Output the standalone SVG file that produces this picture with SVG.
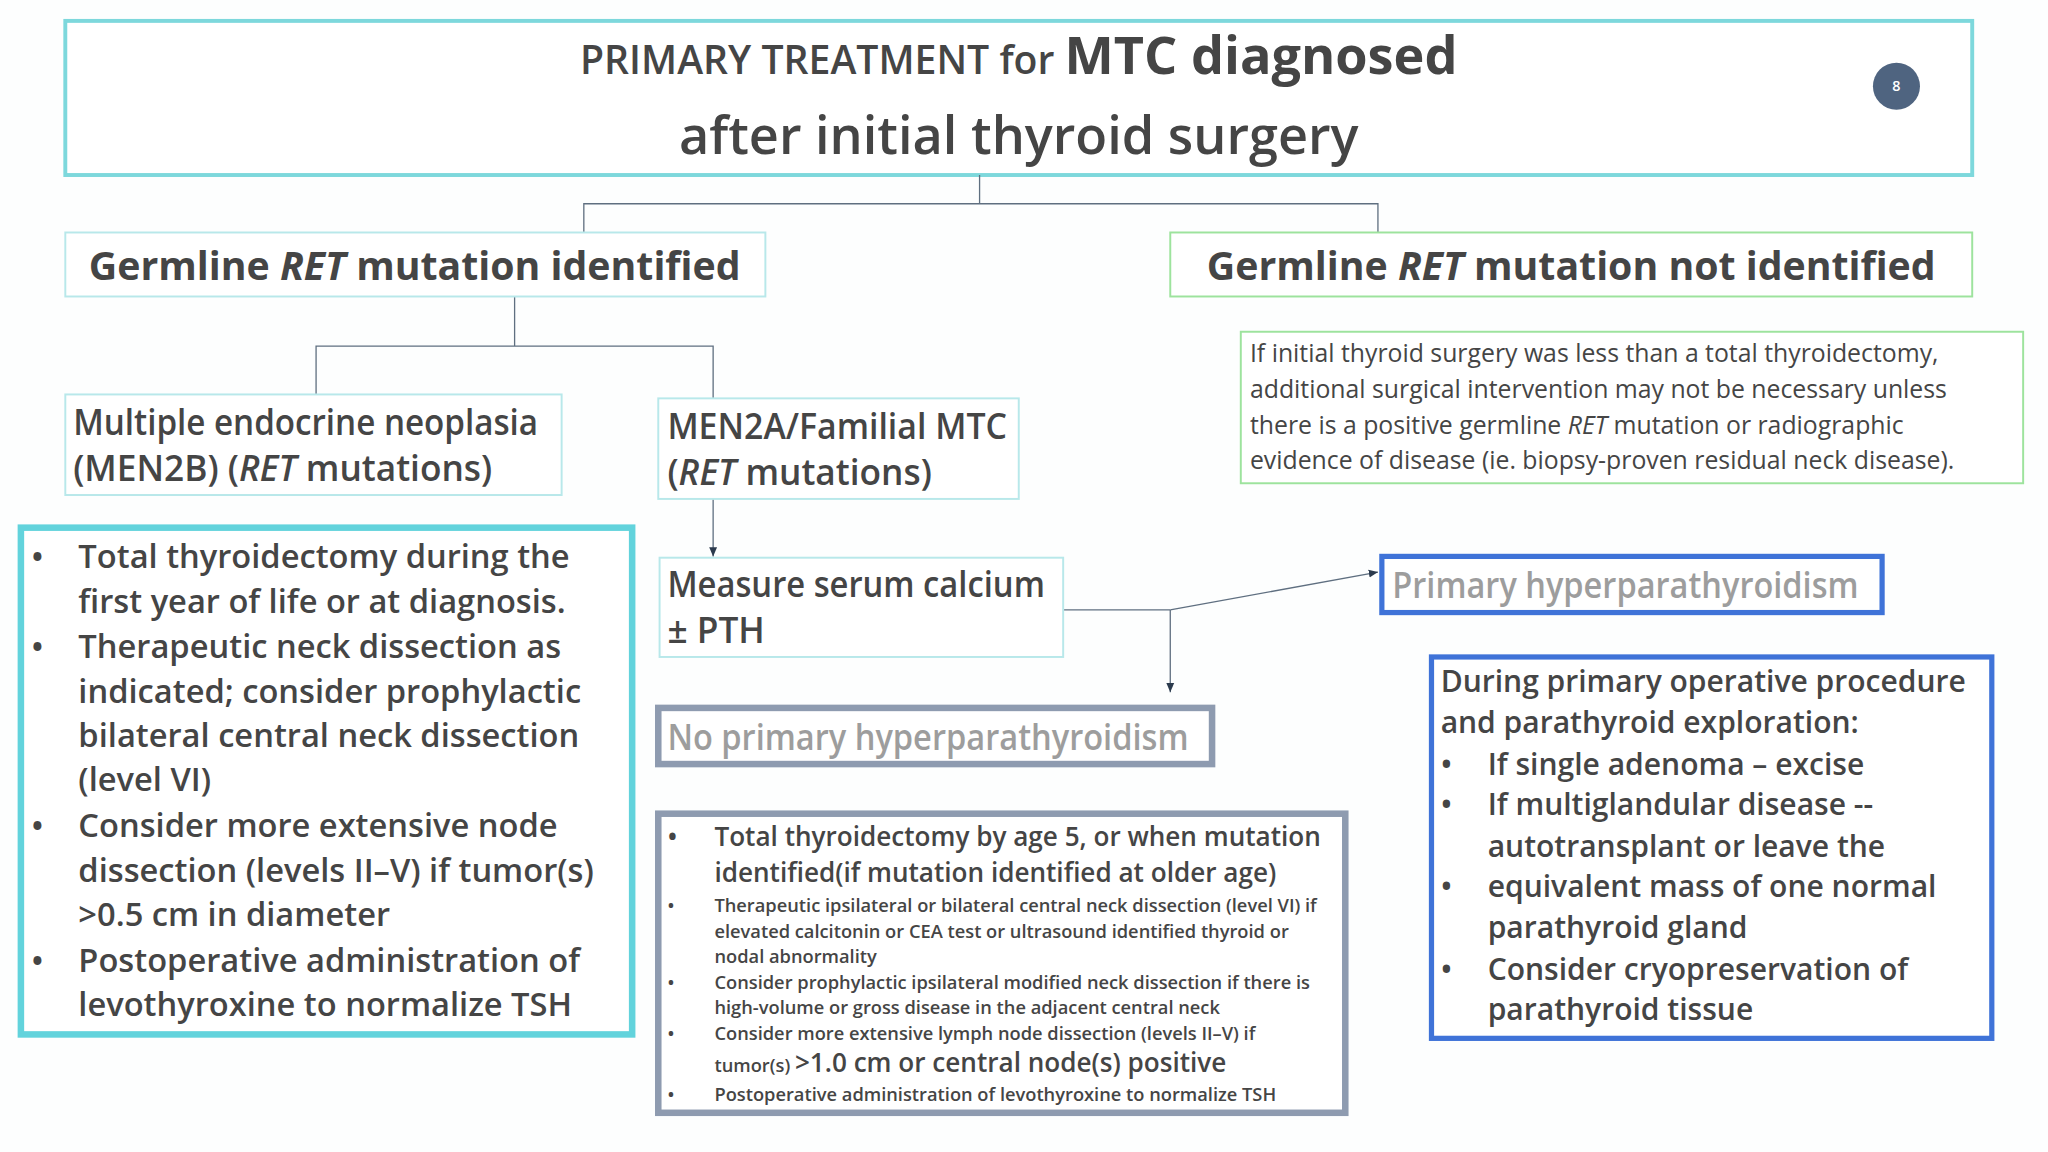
<svg xmlns="http://www.w3.org/2000/svg" width="2048" height="1152" viewBox="0 0 2048 1152">
<style>
text{font-family:"Open Sans","Noto Sans",sans-serif;fill:#454545;font-weight:600}
.t30{font-size:30px;font-weight:700}.t27{font-size:27px}.t26{font-size:25px}.t24{font-size:23px}.t20{font-size:20px}.t19{font-size:19px;font-weight:400}.t14{font-size:14px}
.g{fill:#9d9d9d}
.con{stroke:#5f6f80;stroke-width:1;fill:none}
</style>
<defs><marker id="ar" markerWidth="8" markerHeight="8" refX="7" refY="4" orient="auto" markerUnits="userSpaceOnUse"><path d="M0,1 L7,4 L0,7z" fill="#2b3a4d"/></marker></defs>
<rect width="2048" height="1152" fill="#fdfefe"/>
<g transform="scale(1.3061)">
<g id="title">
<rect x="50" y="16" width="1460" height="118" fill="#fff" stroke="#7dd8dc" stroke-width="3"/>
<text x="780" y="57" text-anchor="middle"><tspan font-size="30">PRIMARY TREATMENT for </tspan><tspan font-size="40" font-weight="700">MTC diagnosed</tspan></text>
<text x="780" y="118" text-anchor="middle" font-size="40" font-weight="700">after initial thyroid surgery</text>
<ellipse cx="1452" cy="66" rx="18" ry="18" fill="#4f6480"/>
<text x="1452" y="70" text-anchor="middle" font-size="11" font-weight="400" style="fill:#fff">8</text>
</g>
<g id="connectors">
<path class="con" d="M750,134 V156 M447,178 V156 H1055 V178"/>
<path class="con" d="M394,227 V265 M242,302 V265 H546 V305"/>
<path class="con" d="M546,382 V426" marker-end="url(#ar)"/>
<path class="con" d="M814,467 H896"/>
<path class="con" d="M896,467 L1055,438" marker-end="url(#ar)"/>
<path class="con" d="M896,467 V530" marker-end="url(#ar)"/>
</g>
<g id="ret-yes">
<rect x="50" y="178" width="536" height="49" fill="#fff" stroke="#b8e8ea" stroke-width="1.5"/>
<text class="t30" x="68" y="214" textLength="499" lengthAdjust="spacingAndGlyphs">Germline <tspan font-style="italic">RET</tspan> mutation identified</text>
</g>
<g id="ret-no">
<rect x="896" y="178" width="614" height="49" fill="#fff" stroke="#9de39d" stroke-width="1.5"/>
<text class="t30" x="924" y="214" textLength="558" lengthAdjust="spacingAndGlyphs">Germline <tspan font-style="italic">RET</tspan> mutation not identified</text>
</g>
<g id="ret-no-note">
<rect x="950" y="254" width="599" height="116" fill="#fff" stroke="#9de39d" stroke-width="1.5"/>
<text class="t19" x="957" y="277">If initial thyroid surgery was less than a total thyroidectomy,</text>
<text class="t19" x="957" y="305">additional surgical intervention may not be necessary unless</text>
<text class="t19" x="957" y="332">there is a positive germline <tspan font-style="italic">RET</tspan> mutation or radiographic</text>
<text class="t19" x="957" y="359">evidence of disease (ie. biopsy-proven residual neck disease).</text>
</g>
<g id="men2b">
<rect x="50" y="302" width="380" height="77" fill="#fff" stroke="#b8e8ea" stroke-width="1.5"/>
<text class="t27" x="56" y="333" textLength="356" lengthAdjust="spacingAndGlyphs">Multiple endocrine neoplasia</text>
<text class="t27" x="56" y="368">(MEN2B) (<tspan font-style="italic">RET</tspan> mutations)</text>
</g>
<g id="men2a">
<rect x="504" y="305" width="276" height="77" fill="#fff" stroke="#b8e8ea" stroke-width="1.5"/>
<text class="t27" x="511" y="336" textLength="260" lengthAdjust="spacingAndGlyphs">MEN2A/Familial MTC</text>
<text class="t27" x="511" y="371">(<tspan font-style="italic">RET</tspan> mutations)</text>
</g>
<g id="measure">
<rect x="505" y="427" width="309" height="76" fill="#fff" stroke="#b8e8ea" stroke-width="1.5"/>
<text class="t27" x="511" y="457" textLength="289" lengthAdjust="spacingAndGlyphs">Measure serum calcium</text>
<text class="t27" x="511" y="492">± PTH</text>
</g>
<g id="primary-hpt">
<rect x="1058" y="426" width="383" height="43" fill="#fff" stroke="#3f73d8" stroke-width="4"/>
<text class="t27 g" x="1066" y="458" textLength="357" lengthAdjust="spacingAndGlyphs">Primary hyperparathyroidism</text>
</g>
<g id="no-primary-hpt">
<rect x="504" y="542" width="424" height="43" fill="#fff" stroke="#8e9bb0" stroke-width="5"/>
<text class="t27 g" x="511" y="574" textLength="399" lengthAdjust="spacingAndGlyphs">No primary hyperparathyroidism</text>
</g>
<g id="men2b-treatment">
<rect x="16" y="404" width="468" height="388" fill="#fff" stroke="#62d3dc" stroke-width="5"/>
<g class="t26">
<text x="24" y="435">•</text><text x="60" y="435">Total thyroidectomy during the</text>
<text x="60" y="469">first year of life or at diagnosis.</text>
<text x="24" y="504">•</text><text x="60" y="504">Therapeutic neck dissection as</text>
<text x="60" y="538">indicated; consider prophylactic</text>
<text x="60" y="572">bilateral central neck dissection</text>
<text x="60" y="606">(level VI)</text>
<text x="24" y="641">•</text><text x="60" y="641">Consider more extensive node</text>
<text x="60" y="675">dissection (levels II–V) if tumor(s)</text>
<text x="60" y="709">&gt;0.5 cm in diameter</text>
<text x="24" y="744">•</text><text x="60" y="744">Postoperative administration of</text>
<text x="60" y="778">levothyroxine to normalize TSH</text>
</g>
</g>
<g id="men2a-treatment">
<rect x="504" y="623" width="526" height="229" fill="#fff" stroke="#8e9bb0" stroke-width="5"/>
<text class="t20" x="511" y="648">•</text><text class="t20" x="547" y="648">Total thyroidectomy by age 5, or when mutation</text>
<text class="t20" x="547" y="675">identified(if mutation identified at older age)</text>
<text class="t14" x="511" y="698">•</text><text class="t14" x="547" y="698">Therapeutic ipsilateral or bilateral central neck dissection (level VI) if</text>
<text class="t14" x="547" y="718">elevated calcitonin or CEA test or ultrasound identified thyroid or</text>
<text class="t14" x="547" y="737">nodal abnormality</text>
<text class="t14" x="511" y="757">•</text><text class="t14" x="547" y="757">Consider prophylactic ipsilateral modified neck dissection if there is</text>
<text class="t14" x="547" y="776">high-volume or gross disease in the adjacent central neck</text>
<text class="t14" x="511" y="796">•</text><text class="t14" x="547" y="796">Consider more extensive lymph node dissection (levels II–V) if</text>
<text x="547" y="821"><tspan font-size="14">tumor(s) </tspan><tspan font-size="20">&gt;1.0 cm or central node(s) positive</tspan></text>
<text class="t14" x="511" y="843">•</text><text class="t14" x="547" y="843">Postoperative administration of levothyroxine to normalize TSH</text>
</g>
<g id="hpt-treatment">
<rect x="1096" y="503" width="429" height="292" fill="#fff" stroke="#3f73d8" stroke-width="4"/>
<g class="t24">
<text x="1103" y="530">During primary operative procedure</text>
<text x="1103" y="561">and parathyroid exploration:</text>
<text x="1103" y="593">•</text><text x="1139" y="593">If single adenoma – excise</text>
<text x="1103" y="624">•</text><text x="1139" y="624">If multiglandular disease --</text>
<text x="1139" y="656">autotransplant or leave the</text>
<text x="1103" y="687">•</text><text x="1139" y="687">equivalent mass of one normal</text>
<text x="1139" y="718">parathyroid gland</text>
<text x="1103" y="750">•</text><text x="1139" y="750">Consider cryopreservation of</text>
<text x="1139" y="781">parathyroid tissue</text>
</g>
</g>
</g>
</svg>
